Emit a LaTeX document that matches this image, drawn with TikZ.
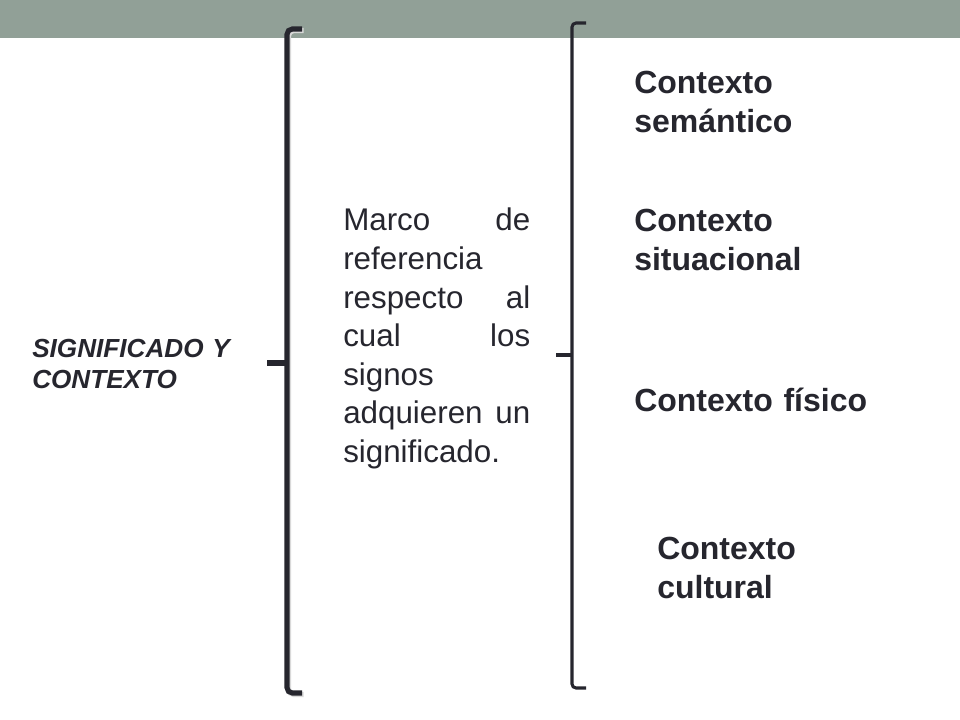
\documentclass[tikz,border=0pt]{standalone}
\usepackage{fontspec}
\setmainfont{Liberation Sans}
\usepackage{tikz}
\definecolor{franja}{RGB}{145,160,151}
\definecolor{tinta}{RGB}{38,38,46}

\begin{document}
\begin{tikzpicture}[
                x=0.75pt, y=-0.75pt,          % 1 unidad = 1 pixel
                every node/.style={
                    inner sep=0pt,
                    anchor=base west,
                    text=tinta
                },
                titulo/.style={font=\fontsize{19.6}{23.25}\selectfont\bfseries\itshape, text width=200pt, align=left},
                marco/.style={font=\fontsize{23.5}{28.9}\selectfont, text width=140.25pt, align=justify},
                tipo/.style={font=\fontsize{24}{29.25}\selectfont\bfseries, text width=200pt, align=left},
                llave/.style={draw=tinta, line width=3.8pt, rounded corners=4pt},
                llavefina/.style={draw=tinta, line width=2.3pt, rounded corners=3pt},
                sombra/.style={draw=gray!30, line width=3.8pt, rounded corners=4pt}
            ]
                % fondo y franja superior
                \useasboundingbox (0,0) rectangle (960,720);
                \fill[white] (0,0) rectangle (960,720);
                \fill[franja] (0,0) rectangle (960,38);

                % llave izquierda
                \draw[sombra] (303.5,30.5) -- (288.5,30.5) -- (288.5,694.5) -- (303.5,694.5);
                \draw[llave] (302,29) -- (287,29) -- (287,693) -- (302,693);
                \draw[llave] (287,363) -- (267,363);

                % llave derecha
                \draw[llavefina] (586,23) -- (572,23) -- (572,688) -- (586,688);
                \draw[llavefina] (572,355) -- (556,355);

                % textos
                \node[titulo] (tema) at (32,357) {SIGNIFICADO Y\\CONTEXTO};
                \node[marco] (def) at (343,231) {Marco\hfill de\\referencia\\respecto\hfill al\\cual\hfill los\\signos\\adquieren\hfill un\\significado.};
                \node[tipo] (sem) at (634,94) {Contexto\\semántico};
                \node[tipo] (sit) at (634,232) {Contexto\\situacional};
                \node[tipo] (fis) at (634,411) {Contexto físico};
                \node[tipo] (cul) at (657,559) {Contexto\\cultural};
            \end{tikzpicture}
\end{document}
